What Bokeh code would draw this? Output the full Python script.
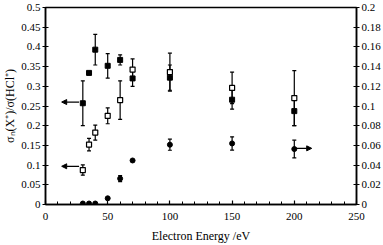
from bokeh.plotting import figure
from bokeh.models import (LinearAxis, Range1d, FixedTicker, CustomJSTickFormatter,
                          ColumnDataSource, Whisker, TeeHead, Arrow, NormalHead)
from bokeh.embed import file_html
from bokeh.resources import INLINE

# ---- data ----
energy = [30, 35, 40, 50, 60, 70, 100, 150, 200]
filled_sq = [0.257, 0.334, 0.393, 0.352, 0.367, 0.320, 0.322, 0.266, 0.237]
filled_sq_err = [0.057, 0.0, 0.039, 0.031, 0.013, 0.020, 0.032, 0.024, 0.037]
open_sq = [0.0875, 0.152, 0.1825, 0.225, 0.265, 0.3425, 0.336, 0.296, 0.270]
open_sq_err = [0.013, 0.016, 0.019, 0.020, 0.049, 0.027, 0.048, 0.040, 0.070]
circle_right = [0.001, 0.001, 0.001, 0.0063, 0.0263, 0.0447, 0.0607, 0.062, 0.0563]
circle_right_err = [0.0, 0.0, 0.0, 0.0, 0.003, 0.0, 0.0056, 0.0067, 0.009]

x_ticks = [0, 50, 100, 150, 200, 250]
x_minor = [v for v in range(0, 251, 10)]
left_ticks = [0, 0.05, 0.1, 0.15, 0.2, 0.25, 0.3, 0.35, 0.4, 0.45, 0.5]
right_ticks = [0, 0.02, 0.04, 0.06, 0.08, 0.1, 0.12, 0.14, 0.16, 0.18, 0.2]

# arrows: (x_start, x_end, y, axis)
arrow_x_start = [27, 27, 200]
arrow_x_end = [13, 13, 214]
arrow_y = [0.26, 0.097, 0.057]
arrow_axis = ["default", "default", "right"]

FONT = "'Liberation Serif', 'Times New Roman', serif"

p = figure(width=383, height=245, output_backend="svg", toolbar_location=None,
           x_range=Range1d(0, 250), y_range=Range1d(0, 0.5),
           min_border_left=40, min_border_right=0, min_border_top=7, min_border_bottom=0)
p.extra_y_ranges = {"right": Range1d(0, 0.2)}
p.grid.visible = False
p.outline_line_color = "black"
p.outline_line_width = 1.5
p.background_fill_color = "white"
p.border_fill_color = "white"

fmt = CustomJSTickFormatter(code="return Number(tick.toFixed(3)).toString();")

# x axis
xa = p.xaxis[0]
xa.ticker = FixedTicker(ticks=x_ticks, minor_ticks=x_minor)
xa.axis_label = "Electron Energy /eV"
xa.major_tick_in = 4
xa.major_tick_out = 0
xa.minor_tick_in = 3
xa.minor_tick_out = 0

# left y axis
ya = p.yaxis[0]
ya.ticker = FixedTicker(ticks=left_ticks)
ya.formatter = fmt
ya.axis_label = "σₙ(X⁺)/σ(HCl⁺)"
ya.major_tick_in = 3
ya.major_tick_out = 3

# right y axis
ra = LinearAxis(y_range_name="right")
ra.ticker = FixedTicker(ticks=right_ticks)
ra.formatter = fmt
ra.major_tick_in = 3
ra.major_tick_out = 3
p.add_layout(ra, "right")

for ax in (xa, ya, ra):
    ax.axis_line_width = 1.5
    ax.major_tick_line_width = 1.2
    ax.minor_tick_line_width = 1
    ax.major_label_text_font = FONT
    ax.major_label_text_font_size = "11px"
    ax.major_label_text_color = "black"
    ax.axis_label_text_font = FONT
    ax.axis_label_text_font_size = "12px"
    ax.axis_label_text_font_style = "normal"
    ax.axis_label_text_color = "black"
    ax.major_label_standoff = 2
    ax.axis_label_standoff = 1
xa.major_label_standoff = 8
xa.axis_label_standoff = 6
ra.axis_label_standoff = 0
ra.axis_label_text_font_size = "0px"
for ax in (ya, ra):
    ax.minor_tick_line_color = None


def err_source(y, e):
    xs = [x for x, ee in zip(energy, e) if ee > 0]
    lo = [v - ee for v, ee in zip(y, e) if ee > 0]
    hi = [v + ee for v, ee in zip(y, e) if ee > 0]
    return ColumnDataSource(dict(x=xs, lo=lo, hi=hi))


def add_whisker(y, e, range_name="default"):
    w = Whisker(source=err_source(y, e), base="x", lower="lo", upper="hi",
                line_color="black", line_width=1.2,
                upper_head=TeeHead(size=4, line_color="black", line_width=1.2),
                lower_head=TeeHead(size=4, line_color="black", line_width=1.2))
    w.y_range_name = range_name
    p.add_layout(w)


add_whisker(filled_sq, filled_sq_err)
add_whisker(open_sq, open_sq_err)
add_whisker(circle_right, circle_right_err, "right")

p.scatter(energy, filled_sq, marker="square", size=5, fill_color="black", line_color="black")
p.scatter(energy, open_sq, marker="square", size=5, fill_color="white", line_color="black", line_width=1.2)
p.scatter(energy, circle_right, marker="circle", size=5, fill_color="black", line_color="black",
          y_range_name="right")

for xs, xe, yy, rn in zip(arrow_x_start, arrow_x_end, arrow_y, arrow_axis):
    a = Arrow(x_start=xs, y_start=yy, x_end=xe, y_end=yy, line_color="black", line_width=1.2,
              end=NormalHead(size=5, fill_color="black", line_color="black"))
    a.y_range_name = rn
    p.add_layout(a)

open("out.html", "w").write(file_html(p, INLINE))
